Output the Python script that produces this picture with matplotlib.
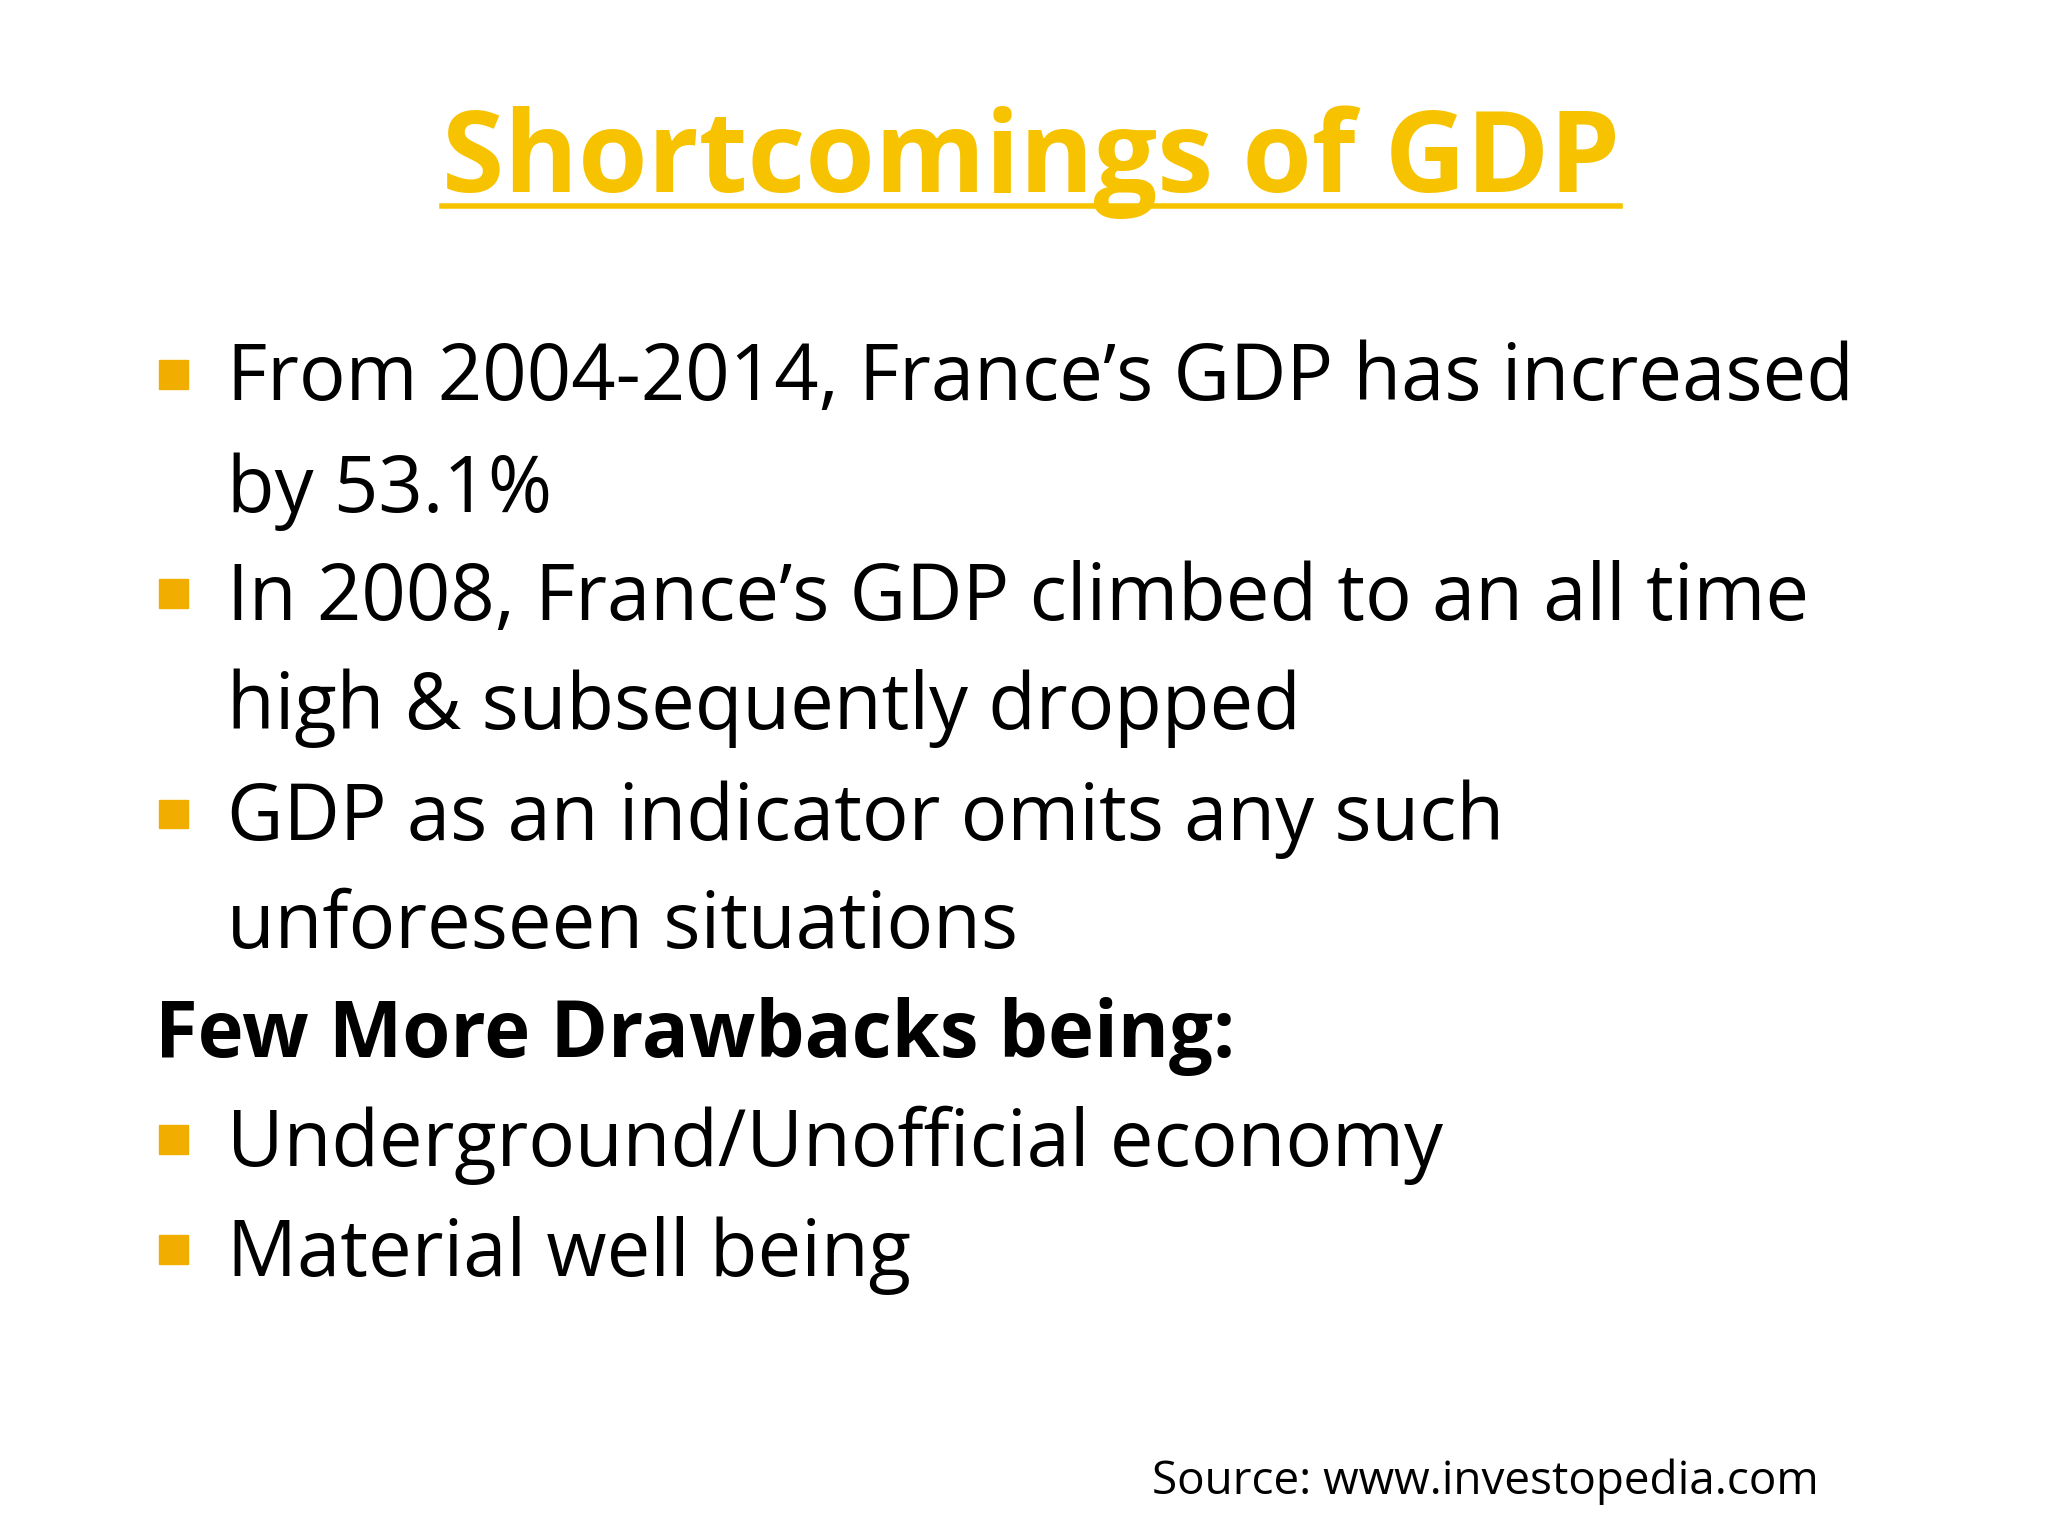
import matplotlib
matplotlib.use("Agg")
import matplotlib.pyplot as plt
from matplotlib.lines import Line2D
from matplotlib.patches import Rectangle

title = "Shortcomings of GDP"
lines = [
    ("b", "From 2004-2014, France’s GDP has increased"),
    ("", "by 53.1%"),
    ("b", "In 2008, France’s GDP climbed to an all time"),
    ("", "high & subsequently dropped"),
    ("b", "GDP as an indicator omits any such"),
    ("", "unforeseen situations"),
    ("h", "Few More Drawbacks being:"),
    ("b", "Underground/Unofficial economy"),
    ("b", "Material well being"),
]
baselines = [305, 390, 472, 555, 640, 722, 805, 888, 972]
source = "Source: www.investopedia.com"

W, H = 1560.0, 1170.0
fig = plt.figure(figsize=(20.48, 15.36), dpi=100)
fig.patch.set_facecolor("white")
fam = ["Open Sans", "DejaVu Sans"]

def fy(y):
    return 1 - y / H

t = fig.text(785 / W, fy(146), title, ha="center", va="baseline", fontsize=81,
             fontweight="bold", color="#F7C300", family=fam)
fig.canvas.draw()
bb = t.get_window_extent().transformed(fig.transFigure.inverted())
fig.add_artist(Line2D([bb.x0, bb.x1], [fy(157)] * 2, color="#F7C300", lw=4,
                      transform=fig.transFigure))

for (kind, txt), yb in zip(lines, baselines):
    if kind == "h":
        fig.text(118 / W, fy(yb), txt, ha="left", va="baseline", fontsize=56,
                 fontweight="bold", color="black", family=fam)
    else:
        fig.text(173 / W, fy(yb), txt, ha="left", va="baseline", fontsize=56,
                 color="black", family=fam)
        if kind == "b":
            s = 22
            fig.add_artist(Rectangle((121 / W, fy(yb - 9)), s / W, s / H,
                                     transform=fig.transFigure, color="#F2AE00"))

fig.text(1385 / W, fy(1138), source, ha="right", va="baseline", fontsize=33,
         color="black", family=fam)

fig.savefig("out.png", dpi=100, facecolor="white")
